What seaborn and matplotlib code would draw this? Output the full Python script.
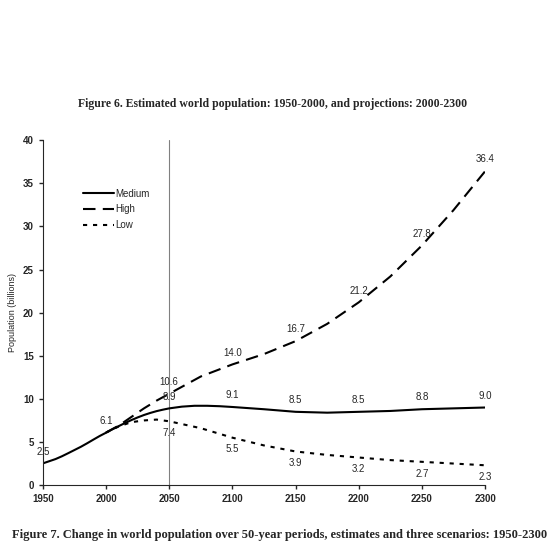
import pandas as pd
import matplotlib
matplotlib.use("Agg")
import matplotlib.pyplot as plt
import seaborn as sns

# values (billions)
years_med = [1950, 1955, 1960, 1965, 1970, 1975, 1980, 1985, 1990, 1995, 2000,
             2005, 2010, 2015, 2020, 2025, 2030, 2035, 2040, 2045, 2050,
             2060, 2070, 2080, 2090, 2100, 2125, 2150, 2175, 2200, 2225,
             2250, 2275, 2300]
medium = [2.52, 2.77, 3.02, 3.34, 3.70, 4.07, 4.44, 4.85, 5.28, 5.70, 6.08,
          6.47, 6.84, 7.2, 7.54, 7.85, 8.13, 8.37, 8.58, 8.75, 8.9,
          9.1, 9.2, 9.2, 9.15, 9.06, 8.8, 8.5, 8.4, 8.5, 8.6,
          8.8, 8.9, 9.0]

years_proj = [2000, 2010, 2020, 2030, 2040, 2050, 2075, 2100, 2125, 2150,
              2175, 2200, 2225, 2250, 2275, 2300]
high = [6.1, 6.9, 7.9, 8.9, 9.8, 10.6, 12.6, 14.0, 15.2, 16.7,
        18.7, 21.2, 24.2, 27.8, 31.9, 36.4]
low = [6.1, 6.8, 7.3, 7.5, 7.6, 7.4, 6.6, 5.5, 4.6, 3.9,
       3.5, 3.2, 2.9, 2.7, 2.5, 2.3]

label_years_med = [1950, 2000, 2050, 2100, 2150, 2200, 2250, 2300]
label_years_proj = [2050, 2100, 2150, 2200, 2250, 2300]
scenarios = ["Medium", "High", "Low"]

# long-form table for seaborn
df = pd.concat([
    pd.DataFrame({"year": years_med, "pop": medium, "scenario": "Medium"}),
    pd.DataFrame({"year": years_proj, "pop": high, "scenario": "High"}),
    pd.DataFrame({"year": years_proj, "pop": low, "scenario": "Low"}),
], ignore_index=True)

sns.set_style("ticks")
plt.rcParams["font.family"] = ["Liberation Sans", "DejaVu Sans"]

fig = plt.figure(figsize=(5.5, 5.5), dpi=100)
ax = fig.add_axes([0.078, 0.118, 0.804, 0.627])

sns.lineplot(data=df, x="year", y="pop", hue="scenario", style="scenario",
             hue_order=scenarios, style_order=scenarios,
             palette={s: "black" for s in scenarios},
             dashes={"Medium": "", "High": (6, 3.5), "Low": (2, 2.8)},
             linewidth=1.5, ax=ax)

ax.axvline(2050, color="#808080", lw=0.8, zorder=0)

# value labels (one decimal, as printed)
med_map = dict(zip(years_med, medium))
high_map = dict(zip(years_proj, high))
low_map = dict(zip(years_proj, low))
for yr in label_years_med:
    ax.annotate(f"{med_map[yr]:.1f}", (yr, med_map[yr]), xytext=(0, 8.5),
                textcoords="offset points", ha="center", va="center", fontsize=7)
for yr in label_years_proj:
    ax.annotate(f"{high_map[yr]:.1f}", (yr, high_map[yr]), xytext=(0, 8.5),
                textcoords="offset points", ha="center", va="center", fontsize=7)
    ax.annotate(f"{low_map[yr]:.1f}", (yr, low_map[yr]), xytext=(0, -8.5),
                textcoords="offset points", ha="center", va="center", fontsize=7)

ax.set_xlim(1950, 2300)
ax.set_ylim(0, 40)
ax.set_xticks(range(1950, 2301, 50))
ax.set_yticks(range(0, 41, 5))
ax.tick_params(labelsize=7, length=3, width=1)
for lab in ax.get_xticklabels() + ax.get_yticklabels():
    lab.set_fontweight("bold")
ax.set_xlabel("")
ax.set_ylabel("Population (billions)", fontsize=6.5)
sns.despine(ax=ax)

sns.move_legend(ax, "upper left", bbox_to_anchor=(0.07, 0.885), title=None,
                frameon=False, fontsize=7, handlelength=3.2, handletextpad=0.2,
                labelspacing=0.6)

fig.text(0.495, 0.811,
         "Figure 6. Estimated world population: 1950-2000, and projections: 2000-2300",
         ha="center", va="center", fontsize=8.5, fontweight="bold",
         family=["Liberation Serif", "DejaVu Serif"])
fig.text(0.022, 0.027,
         "Figure 7. Change in world population over 50-year periods, estimates and three scenarios: 1950-2300",
         ha="left", va="center", fontsize=9, fontweight="bold",
         family=["Liberation Serif", "DejaVu Serif"])

fig.savefig("out.png", dpi=100)
